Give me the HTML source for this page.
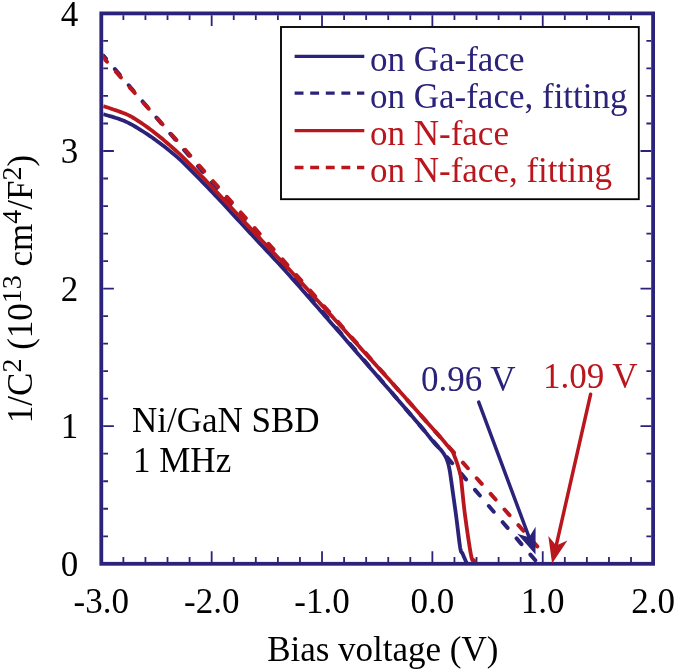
<!DOCTYPE html>
<html><head><meta charset="utf-8"><style>
html,body{margin:0;padding:0;background:#fff;}
svg{display:block;will-change:transform;}
text{font-family:"Liberation Serif",serif;font-size:35px;}
</style></head><body>
<svg width="675" height="671" viewBox="0 0 675 671">
<defs><clipPath id="pc"><rect x="103.2" y="15.3" width="548" height="546.6"/></clipPath></defs>
<rect x="101.3" y="13.4" width="551.80" height="550.40" fill="none" stroke="#2b2379" stroke-width="3.8"/>
<path d="M123.37 561.90V557.10M123.37 15.30V20.10M145.44 561.90V557.10M145.44 15.30V20.10M167.52 561.90V557.10M167.52 15.30V20.10M189.59 561.90V557.10M189.59 15.30V20.10M211.66 561.90V551.20M211.66 15.30V26.00M233.73 561.90V557.10M233.73 15.30V20.10M255.80 561.90V557.10M255.80 15.30V20.10M277.88 561.90V557.10M277.88 15.30V20.10M299.95 561.90V557.10M299.95 15.30V20.10M322.02 561.90V551.20M322.02 15.30V26.00M344.09 561.90V557.10M344.09 15.30V20.10M366.16 561.90V557.10M366.16 15.30V20.10M388.24 561.90V557.10M388.24 15.30V20.10M410.31 561.90V557.10M410.31 15.30V20.10M432.38 561.90V551.20M432.38 15.30V26.00M454.45 561.90V557.10M454.45 15.30V20.10M476.52 561.90V557.10M476.52 15.30V20.10M498.60 561.90V557.10M498.60 15.30V20.10M520.67 561.90V557.10M520.67 15.30V20.10M542.74 561.90V551.20M542.74 15.30V26.00M564.81 561.90V557.10M564.81 15.30V20.10M586.88 561.90V557.10M586.88 15.30V20.10M608.96 561.90V557.10M608.96 15.30V20.10M631.03 561.90V557.10M631.03 15.30V20.10M103.20 536.28H108.00M651.20 536.28H646.40M103.20 508.76H108.00M651.20 508.76H646.40M103.20 481.24H108.00M651.20 481.24H646.40M103.20 453.72H108.00M651.20 453.72H646.40M103.20 426.20H113.90M651.20 426.20H640.50M103.20 398.68H108.00M651.20 398.68H646.40M103.20 371.16H108.00M651.20 371.16H646.40M103.20 343.64H108.00M651.20 343.64H646.40M103.20 316.12H108.00M651.20 316.12H646.40M103.20 288.60H113.90M651.20 288.60H640.50M103.20 261.08H108.00M651.20 261.08H646.40M103.20 233.56H108.00M651.20 233.56H646.40M103.20 206.04H108.00M651.20 206.04H646.40M103.20 178.52H108.00M651.20 178.52H646.40M103.20 151.00H113.90M651.20 151.00H640.50M103.20 123.48H108.00M651.20 123.48H646.40M103.20 95.96H108.00M651.20 95.96H646.40M103.20 68.44H108.00M651.20 68.44H646.40M103.20 40.92H108.00M651.20 40.92H646.40" stroke="#2b2379" stroke-width="1.8" fill="none"/>
<text x="69.6" y="575.9" text-anchor="middle">0</text>
<text x="69.6" y="438.3" text-anchor="middle">1</text>
<text x="69.6" y="300.7" text-anchor="middle">2</text>
<text x="69.6" y="163.1" text-anchor="middle">3</text>
<text x="69.6" y="25.5" text-anchor="middle">4</text>
<text x="101.3" y="612.6" text-anchor="middle">-3.0</text>
<text x="211.7" y="612.6" text-anchor="middle">-2.0</text>
<text x="322.0" y="612.6" text-anchor="middle">-1.0</text>
<text x="432.4" y="612.6" text-anchor="middle">0.0</text>
<text x="542.7" y="612.6" text-anchor="middle">1.0</text>
<text x="653.1" y="612.6" text-anchor="middle">2.0</text>
<text x="382.8" y="660.6" text-anchor="middle">Bias voltage (V)</text>
<text transform="translate(32 289) rotate(-90)" text-anchor="middle">1/C<tspan font-size="28" dy="-11.5">2</tspan><tspan dy="11.5"> (10</tspan><tspan font-size="28" dy="-11.5">13</tspan><tspan dy="11.5"> cm</tspan><tspan font-size="28" dy="-11.5">4</tspan><tspan dy="11.5">/F</tspan><tspan font-size="28" dy="-11.5">2</tspan><tspan dy="11.5">)</tspan></text>
<rect x="281" y="27" width="357.8" height="172.2" fill="#fff" stroke="#000" stroke-width="1.85"/>
<path d="M294.6 56.4H364.3" stroke="#2b2379" stroke-width="3.3"/>
<text x="370" y="71.1" fill="#2b2379">on Ga-face</text>
<path d="M294.6 93.2H364.3" stroke="#2b2379" stroke-width="3.3" stroke-dasharray="8.9 6.7"/>
<text x="370" y="107.9" fill="#2b2379">on Ga-face, fitting</text>
<path d="M294.6 130.7H364.3" stroke="#b9171d" stroke-width="3.3"/>
<text x="370" y="144.7" fill="#b9171d">on N-face</text>
<path d="M294.6 167.5H364.3" stroke="#b9171d" stroke-width="3.3" stroke-dasharray="8.9 6.7"/>
<text x="370" y="181.5" fill="#b9171d">on N-face, fitting</text>
<path d="M103.30 55.51L105.94 58.60M114.91 69.08L119.79 74.78M128.76 85.27L133.64 90.96M142.61 101.45L147.49 107.15M156.46 117.63L161.34 123.33M170.31 133.82L175.19 139.51M184.16 150.00L189.04 155.70M198.01 166.18L202.89 171.88M211.86 182.37L216.74 188.07M225.71 198.55L230.59 204.25M239.56 214.74L244.44 220.43M253.41 230.92L258.29 236.62M267.26 247.10L272.14 252.80M281.11 263.29L285.99 268.98M294.96 279.47L299.84 285.17M308.81 295.65L313.69 301.35M322.66 311.84L327.54 317.54M336.51 328.02L341.39 333.72M350.36 344.21L355.24 349.90M364.21 360.39L369.09 366.09M378.06 376.57L382.94 382.27M391.91 392.76L396.79 398.45M405.76 408.94L410.64 414.64M419.61 425.12L424.49 430.82M433.46 441.31L438.34 447.01M447.31 457.49L452.19 463.19M461.16 473.67L466.04 479.37M475.01 489.86L479.89 495.56M488.86 506.04L493.74 511.74M502.71 522.23L507.59 527.92M516.56 538.41L521.44 544.11M530.41 554.59L535.29 560.29" stroke="#2b2379" stroke-width="4.0" stroke-linecap="round" fill="none" clip-path="url(#pc)"/>
<path d="M103.30 57.59L106.99 61.74M115.89 71.77L120.87 77.38M129.77 87.40L134.75 93.01M143.65 103.04L148.63 108.64M157.53 118.67L162.51 124.28M171.41 134.30L176.39 139.91M185.29 149.94L190.27 155.55M199.17 165.57L204.15 171.18M213.05 181.21L218.03 186.82M226.93 196.84L231.91 202.45M240.81 212.48L245.79 218.09M254.69 228.11L259.67 233.72M268.57 243.75L273.55 249.35M282.45 259.38L287.43 264.99M296.33 275.01L301.31 280.62M310.21 290.65L315.19 296.26M324.09 306.28L329.07 311.89M337.97 321.92L342.95 327.53M351.85 337.55L356.83 343.16M365.73 353.19L370.71 358.80M379.61 368.82L384.59 374.43M393.49 384.46L398.47 390.06M407.37 400.09L412.35 405.70M421.25 415.72L426.23 421.33M435.13 431.36L440.11 436.97M449.01 446.99L453.99 452.60M462.89 462.63L467.87 468.24M476.77 478.26L481.75 483.87M490.65 493.90L495.63 499.51M504.53 509.53L509.51 515.14M518.41 525.17L523.39 530.77M532.29 540.80L537.27 546.41" stroke="#b9171d" stroke-width="4.0" stroke-linecap="round" fill="none" clip-path="url(#pc)"/>
<path d="M103.20 114.20L104.35 114.53L105.90 114.97L107.75 115.48L109.79 116.06L111.93 116.68L114.06 117.32L116.09 117.96L117.90 118.57L119.52 119.15L121.04 119.71L122.50 120.27L123.93 120.85L125.36 121.47L126.83 122.14L128.37 122.88L130.00 123.71L131.74 124.64L133.55 125.66L135.41 126.75L137.32 127.89L139.25 129.07L141.18 130.29L143.11 131.51L145.00 132.74L146.84 133.94L148.63 135.13L150.41 136.32L152.19 137.54L154.01 138.83L155.90 140.19L157.89 141.66L160.00 143.27L162.26 145.01L164.65 146.87L167.13 148.82L169.69 150.87L172.28 152.99L174.88 155.16L177.47 157.38L180.00 159.64L182.50 161.95L185.00 164.34L187.50 166.79L190.00 169.29L192.50 171.83L195.00 174.39L197.50 176.95L200.00 179.51L202.50 182.06L205.00 184.64L207.50 187.23L210.00 189.83L212.50 192.45L215.00 195.08L217.50 197.72L220.00 200.38L222.50 203.05L225.00 205.74L227.50 208.45L230.00 211.17L232.50 213.89L235.00 216.62L237.50 219.34L240.00 222.05L242.50 224.75L245.00 227.45L247.50 230.15L250.00 232.85L252.50 235.55L255.00 238.24L257.50 240.93L260.00 243.62L262.50 246.29L265.00 248.95L267.50 251.60L270.00 254.25L272.50 256.91L275.00 259.58L277.50 262.27L280.00 264.99L282.50 267.73L285.00 270.50L287.50 273.28L290.00 276.08L292.50 278.89L295.00 281.71L297.50 284.53L300.00 287.36L302.50 290.19L305.00 293.04L307.50 295.90L310.00 298.76L312.50 301.63L315.00 304.50L317.50 307.37L320.00 310.23L322.43 313.01L324.77 315.67L327.06 318.29L329.38 320.93L331.77 323.67L334.30 326.56L337.02 329.68L340.00 333.10L343.27 336.86L346.80 340.91L350.52 345.20L354.38 349.64L358.31 354.18L362.27 358.74L366.18 363.25L370.00 367.65L373.80 372.02L377.66 376.47L381.56 380.95L385.44 385.41L389.26 389.81L392.99 394.11L396.58 398.26L400.00 402.21L403.30 406.03L406.55 409.81L409.71 413.48L412.75 417.03L415.63 420.40L418.33 423.56L420.79 426.47L423.00 429.08L424.91 431.37L426.53 433.37L427.92 435.10L429.12 436.63L430.19 437.99L431.16 439.22L432.08 440.38L433.00 441.50L433.88 442.54L434.65 443.42L435.33 444.18L435.94 444.84L436.49 445.42L437.01 445.96L437.50 446.48L438.00 447.00L438.47 447.48L438.88 447.88L439.25 448.22L439.59 448.54L439.93 448.85L440.26 449.18L440.61 449.55L441.00 450.00L441.42 450.52L441.87 451.09L442.32 451.70L442.79 452.34L443.25 452.99L443.69 453.64L444.11 454.28L444.50 454.90L444.86 455.50L445.19 456.08L445.51 456.66L445.81 457.24L446.09 457.82L446.37 458.42L446.64 459.05L446.90 459.70L447.16 460.38L447.41 461.10L447.65 461.83L447.88 462.57L448.10 463.33L448.31 464.09L448.51 464.85L448.70 465.60L448.88 466.36L449.06 467.15L449.22 467.96L449.38 468.76L449.53 469.54L449.66 470.28L449.79 470.97L449.90 471.60L449.96 471.90L449.95 471.78L449.91 471.46L449.88 471.18L449.87 471.16L449.93 471.64L450.10 472.84L450.40 475.00L450.87 478.30L451.47 482.60L452.19 487.64L452.97 493.16L453.78 498.92L454.58 504.65L455.33 510.09L456.00 515.00L456.60 519.63L457.19 524.34L457.76 529.02L458.31 533.54L458.83 537.80L459.32 541.67L459.78 545.05L460.20 547.80L460.57 549.80L460.89 551.10L461.17 551.87L461.42 552.26L461.67 552.46L461.92 552.62L462.19 552.91L462.50 553.50L462.85 554.34L463.24 555.25L463.64 556.21L464.05 557.17L464.45 558.11L464.84 559.00L465.19 559.81L465.50 560.50L465.77 561.09L466.02 561.60L466.24 562.05L466.44 562.44L466.61 562.77L466.77 563.05L466.89 563.30L467.00 563.50" stroke="#2b2379" stroke-width="3.8" fill="none" stroke-linejoin="round" clip-path="url(#pc)"/>
<path d="M103.20 106.07L104.35 106.46L105.90 106.96L107.75 107.57L109.79 108.24L111.93 108.96L114.06 109.68L116.09 110.38L117.90 111.03L119.52 111.62L121.04 112.16L122.50 112.68L123.93 113.21L125.36 113.77L126.83 114.40L128.37 115.12L130.00 115.96L131.74 116.92L133.55 117.99L135.41 119.14L137.32 120.35L139.25 121.62L141.18 122.92L143.11 124.24L145.00 125.56L146.84 126.85L148.63 128.13L150.41 129.43L152.19 130.76L154.01 132.15L155.90 133.63L157.89 135.22L160.00 136.95L162.26 138.83L164.65 140.84L167.13 142.97L169.69 145.18L172.28 147.45L174.88 149.78L177.47 152.13L180.00 154.48L182.50 156.86L185.00 159.29L187.50 161.76L190.00 164.28L192.50 166.81L195.00 169.37L197.50 171.94L200.00 174.51L202.50 177.09L205.00 179.68L207.50 182.30L210.00 184.93L212.50 187.57L215.00 190.22L217.50 192.88L220.00 195.54L222.50 198.20L225.00 200.88L227.50 203.57L230.00 206.27L232.50 208.97L235.00 211.67L237.50 214.37L240.00 217.06L242.50 219.76L245.00 222.46L247.50 225.16L250.00 227.86L252.50 230.56L255.00 233.25L257.50 235.92L260.00 238.59L262.50 241.24L265.00 243.87L267.50 246.49L270.00 249.11L272.50 251.72L275.00 254.34L277.50 256.97L280.00 259.62L282.50 262.28L285.00 264.96L287.50 267.63L290.00 270.32L292.50 273.02L295.00 275.72L297.50 278.43L300.00 281.15L302.50 283.88L305.00 286.62L307.50 289.37L310.00 292.13L312.50 294.89L315.00 297.66L317.50 300.42L320.00 303.18L322.43 305.85L324.77 308.42L327.06 310.94L329.38 313.49L331.77 316.12L334.30 318.91L337.02 321.91L340.00 325.20L343.27 328.83L346.80 332.74L350.52 336.86L354.38 341.15L358.31 345.52L362.27 349.91L366.18 354.26L370.00 358.50L373.73 362.64L377.45 366.75L381.15 370.85L384.86 374.96L388.59 379.09L392.35 383.26L396.14 387.48L400.00 391.79L404.07 396.35L408.42 401.23L412.89 406.27L417.35 411.30L421.65 416.16L425.66 420.68L429.22 424.70L432.20 428.06L434.55 430.70L436.39 432.76L437.81 434.35L438.92 435.59L439.81 436.59L440.59 437.47L441.36 438.33L442.20 439.30L443.04 440.27L443.73 441.10L444.32 441.82L444.84 442.46L445.32 443.06L445.80 443.66L446.32 444.30L446.90 445.00L447.56 445.76L448.27 446.55L449.01 447.36L449.74 448.17L450.46 448.98L451.14 449.77L451.76 450.55L452.30 451.30L452.75 452.02L453.13 452.73L453.45 453.42L453.73 454.09L453.98 454.76L454.21 455.41L454.45 456.06L454.70 456.70L454.95 457.33L455.19 457.93L455.42 458.52L455.64 459.11L455.86 459.69L456.07 460.28L456.28 460.88L456.50 461.50L456.72 462.13L456.93 462.76L457.14 463.39L457.35 464.04L457.56 464.70L457.77 465.37L457.98 466.07L458.20 466.80L458.42 467.56L458.66 468.36L458.89 469.18L459.13 470.02L459.36 470.87L459.59 471.72L459.80 472.57L460.00 473.40L460.16 474.03L460.28 474.38L460.38 474.63L460.47 474.92L460.59 475.44L460.73 476.35L460.93 477.82L461.20 480.00L461.53 482.98L461.91 486.61L462.33 490.78L462.79 495.35L463.28 500.19L463.82 505.16L464.39 510.14L465.00 515.00L465.68 520.09L466.46 525.68L467.29 531.54L468.16 537.41L469.01 543.03L469.83 548.18L470.57 552.58L471.20 556.00L471.73 558.32L472.19 559.73L472.60 560.43L472.95 560.62L473.27 560.53L473.56 560.34L473.83 560.26L474.10 560.50L474.36 560.97L474.59 561.43L474.80 561.87L474.98 562.28L475.14 562.66L475.28 563.00L475.40 563.28L475.50 563.50" stroke="#b9171d" stroke-width="3.8" fill="none" stroke-linejoin="round" clip-path="url(#pc)"/>
<text x="421" y="390.6" fill="#2b2379">0.96 V</text>
<text x="543" y="388.3" fill="#b9171d">1.09 V</text>
<path d="M478.72 402.12L529.39 538.20" stroke="#2b2379" stroke-width="3.5" stroke-linecap="round"/><path d="M535.50 554.60L517.24 533.65L529.04 537.26L535.61 526.81Z" fill="#2b2379"/>
<path d="M590.63 394.17L555.98 546.54" stroke="#b9171d" stroke-width="3.5" stroke-linecap="round"/><path d="M552.10 563.60L548.31 536.07L556.20 545.56L567.42 540.42Z" fill="#b9171d"/>
<text x="132" y="431.5">Ni/GaN SBD</text>
<text x="133" y="472.2">1 MHz</text>
</svg>
</body></html>
